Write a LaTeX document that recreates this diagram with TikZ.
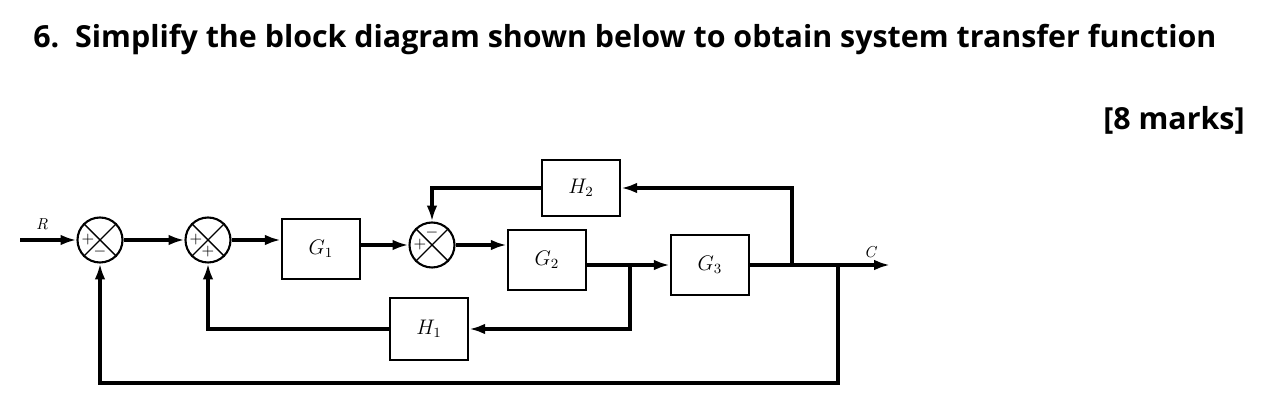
\documentclass[tikz,border=0pt]{standalone}
\usepackage{fontspec}
\setsansfont{Open Sans}
\usetikzlibrary{arrows.meta,calc}
\begin{document}
\begin{tikzpicture}[x=0.02cm,y=-0.02cm,
  blk/.style={draw,line width=1.4pt,minimum width=1.56cm,minimum height=1.2cm,font=\large},
  sumn/.style={draw,circle,line width=1.2pt,minimum size=0.9cm,inner sep=0pt},
  sig/.style={line width=2pt,-{Latex[length=9pt,width=6pt]}},
  ln/.style={line width=2pt},
  sg/.style={font=\small,inner sep=0pt}]
\useasboundingbox (0,0) rectangle (1280,404);
\fill[white] (0,0) rectangle (1280,404);
\node[anchor=west,font=\sffamily\bfseries\fontsize{17.3}{20}\selectfont,inner sep=0pt] (title) at (33,40) {6.\ \ Simplify the block diagram shown below to obtain system transfer function};
\node[anchor=east,font=\sffamily\bfseries\fontsize{17.3}{20}\selectfont,inner sep=0pt] (marks) at (1245,120) {[8 marks]};
% sums
\foreach \n/\x/\y in {s1/100/240,s2/208/240,s3/432/245}{
  \node[sumn] (\n) at (\x,\y) {};
  \draw[line width=0.8pt] (\n.north west) -- (\n.south east) (\n.north east) -- (\n.south west);
}
\node[sg] at ($(s1.center)+(-12,0)$) {$+$};
\node[sg] at ($(s1.center)+(0,12)$) {$-$};
\node[sg] at ($(s2.center)+(-12,0)$) {$+$};
\node[sg] at ($(s2.center)+(0,12)$) {$+$};
\node[sg] at ($(s3.center)+(-12,0)$) {$+$};
\node[sg] at ($(s3.center)+(0,-12)$) {$-$};
% blocks
\node[blk] (g1) at (321,249) {$G_1$};
\node[blk] (g2) at (547,260) {$G_2$};
\node[blk] (g3) at (710,265) {$G_3$};
\node[blk,minimum height=1.12cm] (h2) at (581,188) {$H_2$};
\node[blk,minimum height=1.24cm] (h1) at (429,329) {$H_1$};
% coordinates
\coordinate (in) at (20,240);
\coordinate (b1) at (630,265);
\coordinate (b2) at (792,265);
\coordinate (b3) at (838,265);
\coordinate (out) at (890,265);
\node[font=\itshape\small] (R) at (42,224) {R};
\node[font=\itshape\small] (C) at (870,252) {C};
% forward
\draw[sig] (in) -- (s1);
\draw[sig] (s1) -- (s2);
\draw[sig] (s2) -- (g1.west |- s2);
\draw[sig] (g1.east |- s3) -- (s3);
\draw[sig] (s3) -- (g2.west |- s3);
\draw[ln] (g2.east |- b1) -- (b1);
\draw[sig] (b1) -- (g3.west |- b1);
\draw[sig] (g3.east |- b1) -- (out);
% H2 loop
\draw[sig] (b2) -- (b2 |- h2) -- (h2.east);
\draw[sig] (h2.west) -- (s3 |- h2) -- (s3.north);
% H1 loop
\draw[sig] (b1) -- (b1 |- h1) -- (h1.east);
\draw[sig] (h1.west) -- (s2 |- h1) -- (s2.south);
% outer
\draw[sig] (b3) -- (838,383) -- (s1 |- 0,383) -- (s1.south);
\end{tikzpicture}
\end{document}
